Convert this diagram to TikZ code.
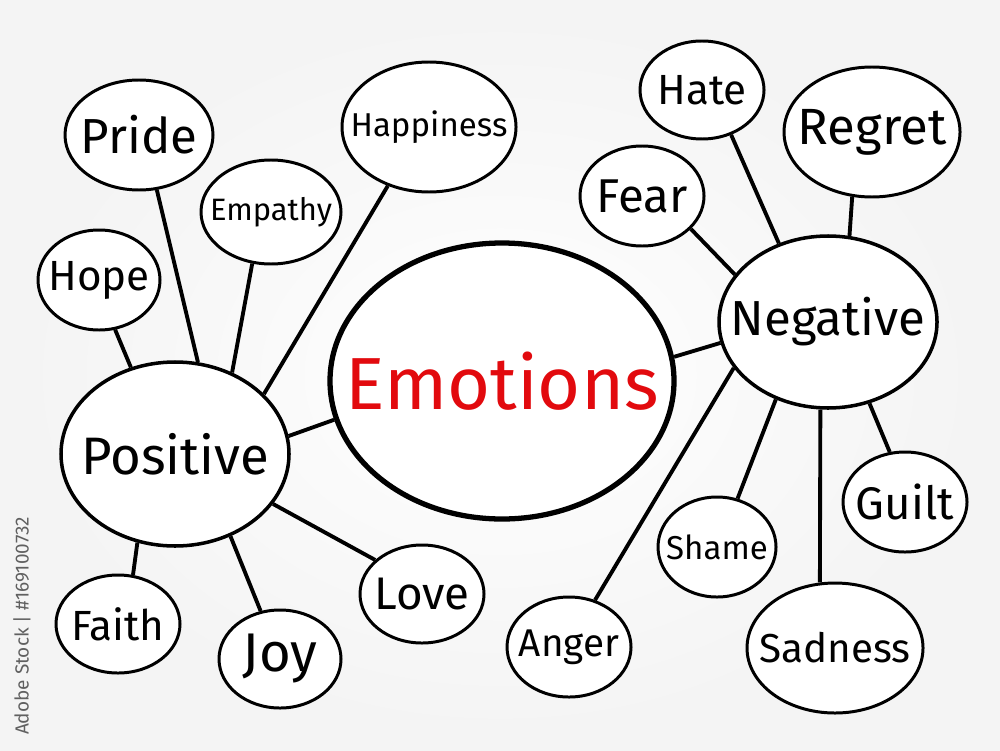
\documentclass[tikz,border=0pt]{standalone}
\usepackage{fontspec}
\setmainfont{Fira Sans}
\usetikzlibrary{shapes.geometric}
\definecolor{emored}{RGB}{226,10,14}

\begin{document}
\begin{tikzpicture}[
  core/.style={draw,ellipse,line width=1.5pt,inner sep=0pt,fill=white},
  hub/.style={draw,ellipse,line width=1pt,inner sep=0pt,fill=white},
  leaf/.style={draw,ellipse,line width=0.85pt,inner sep=0pt,fill=white},
  word/.style={inner sep=0pt,font=\fontsize{#1}{#1}\selectfont},
  link/.style={line width=1.1pt},
]
% ---------- paper ----------
\useasboundingbox (0,0) rectangle (10,7.5);
\shade[inner color=white,outer color=gray!9] (0,0) rectangle (10,7.5);
\node[rotate=90,font=\fontsize{5.4}{6}\selectfont,text=gray!75!black] (stock) at (0.22,1.24) {Adobe Stock | \#169100732};
% ---------- centre ----------
\node[core,minimum width=3.44cm,minimum height=2.76cm,label={[word=21,text=emored]center:Emotions}] (emo) at (5.02,3.69) {};
\node[hub,minimum width=2.28cm,minimum height=1.84cm,label={[word=15]center:Positive}] (pos) at (1.75,2.96) {};
\node[hub,minimum width=2.18cm,minimum height=1.72cm,label={[word=14]center:Negative}] (neg) at (8.28,4.28) {};
\draw[link] (emo.193) -- (pos.9);
\draw[link] (emo.8) -- (neg.191);
% ---------- positive side ----------
\node[leaf,minimum width=1.48cm,minimum height=1.10cm,label={[word=14]center:Pride}] (pride) at (1.39,6.15) {};
\node[leaf,minimum width=1.22cm,minimum height=1.00cm,label={[word=12]center:Hope}] (hope) at (0.99,4.70) {};
\node[leaf,minimum width=1.40cm,minimum height=1.04cm,label={[word=8.8]center:Empathy}] (empathy) at (2.71,5.38) {};
\node[leaf,minimum width=1.74cm,minimum height=1.30cm,label={[word=9.4]center:Happiness}] (happy) at (4.29,6.23) {};
\node[leaf,minimum width=1.24cm,minimum height=0.98cm,label={[word=12]center:Faith}] (faith) at (1.18,1.26) {};
\node[leaf,minimum width=1.22cm,minimum height=0.98cm,label={[word=15.5]center:Joy}] (joy) at (2.80,0.91) {};
\node[leaf,minimum width=1.24cm,minimum height=0.98cm,label={[word=13]center:Love}] (love) at (4.22,1.56) {};
\draw[link] (pride.-72) -- (pos.76);
\draw[link] (hope.-72) -- (pos.117);
\draw[link] (empathy.-110) -- (pos.55);
\draw[link] (happy.-125) -- (pos.34);
\draw[link] (faith.73) -- (pos.-113);
\draw[link] (joy.112) -- (pos.-56);
\draw[link] (love.144) -- (pos.-27);
% ---------- negative side ----------
\node[leaf,minimum width=1.24cm,minimum height=0.98cm,label={[word=12]center:Hate}] (hate) at (7.02,6.60) {};
\node[leaf,minimum width=1.76cm,minimum height=1.30cm,label={[word=14.5]center:Regret}] (regret) at (8.72,6.18) {};
\node[leaf,minimum width=1.24cm,minimum height=1.00cm,label={[word=13.5]center:Fear}] (fear) at (6.42,5.54) {};
\node[leaf,minimum width=1.18cm,minimum height=1.00cm,label={[word=9.4]center:Shame}] (shame) at (7.17,2.03) {};
\node[leaf,minimum width=1.24cm,minimum height=1.00cm,label={[word=13]center:Guilt}] (guilt) at (9.05,2.48) {};
\node[leaf,minimum width=1.76cm,minimum height=1.30cm,label={[word=11.5]center:Sadness}] (sadness) at (8.35,1.02) {};
\node[leaf,minimum width=1.24cm,minimum height=1.00cm,label={[word=11]center:Anger}] (anger) at (5.69,1.03) {};
\draw[link] (hate.-57) -- (neg.122);
\draw[link] (regret.-107) -- (neg.76);
\draw[link] (fear.-34) -- (neg.153);
\draw[link] (anger.61) -- (neg.-154);
\draw[link] (shame.67) -- (neg.-124);
\draw[link] (sadness.103) -- (neg.-95);
\draw[link] (guilt.107) -- (neg.-63);
\end{tikzpicture}
\end{document}
